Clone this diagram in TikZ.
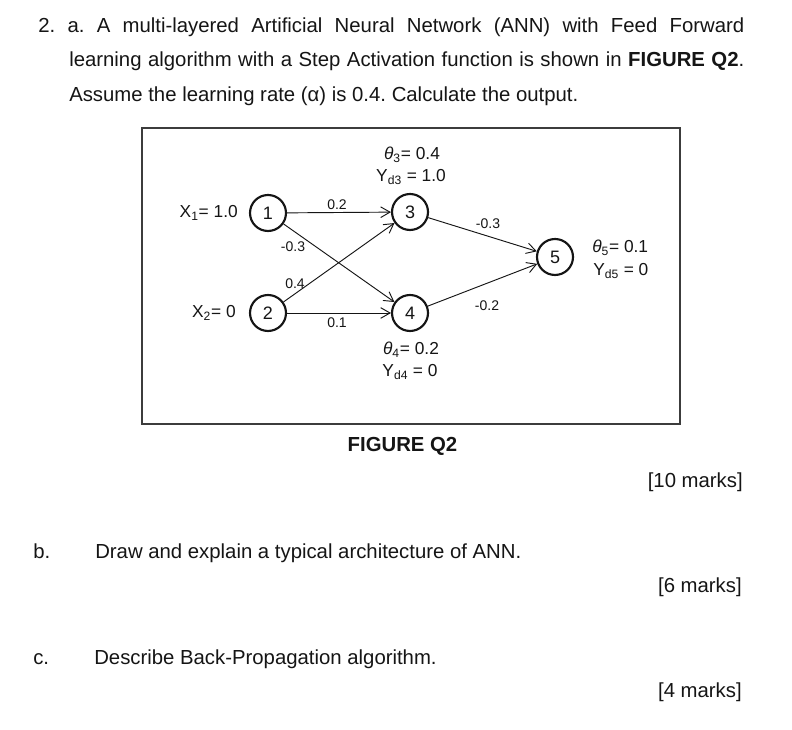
\documentclass[tikz,border=0pt]{standalone}
\usepackage{fontspec}
\setmainfont{Liberation Sans}
\usetikzlibrary{arrows.meta}
\definecolor{ink}{HTML}{151515}
\definecolor{frame}{HTML}{3C3C3C}
\frenchspacing
\begin{document}
\begin{tikzpicture}[x=0.75pt,y=-0.75pt,
  every node/.style={inner sep=0pt, text=ink},
  neuron/.style={circle, draw=ink, line width=1.6pt, minimum size=27pt, font=\fontsize{13.5}{15}\selectfont},
  link/.style={draw=ink, line width=0.7pt, -{Straight Barb[length=7pt,width=8pt,line width=0.7pt]}},
  wt/.style={font=\fontsize{10.5}{12}\selectfont},
  lbl/.style={font=\fontsize{13}{15}\selectfont},
  bodytext/.style={font=\fontsize{15.25}{18}\selectfont, anchor=base west},
  marks/.style={font=\fontsize{15.25}{18}\selectfont, anchor=base east}
]
\useasboundingbox (0,0) rectangle (792,730);
\fill[white] (0,0) rectangle (792,730);

% question text
\node[bodytext] (l1) at (38,33) {\makebox[529.5pt][s]{2. a. A multi-layered Artificial Neural Network (ANN) with Feed Forward}};
\node[bodytext] (l2) at (69,67) {\makebox[506.25pt][s]{learning algorithm with a Step Activation function is shown in \textbf{FIGURE Q2}.}};
\node[bodytext] (l3) at (69,102) {Assume the learning rate (α) is 0.4. Calculate the output.};

% frame
\draw[frame, line width=1.1pt] (142,128) rectangle (680,424);

% neurons
\node[neuron] (n1) at (268,213) {1};
\node[neuron] (n2) at (268,313) {2};
\node[neuron] (n3) at (410,212) {3};
\node[neuron] (n4) at (410,313) {4};
\node[neuron] (n5) at (555,257) {5};

% connectors
\draw[link] (n1) -- (n3);
\draw[link] (n1) -- (n4);
\draw[link] (n2) -- (n3);
\draw[link] (n2) -- (n4);
\draw[link] (n3) -- (n5);
\draw[link] (n4) -- (n5);

% weights
\node[wt] (w13) at (337,205) {0.2};
\node[wt] (w14) at (293,247) {-0.3};
\node[wt] (w23) at (295,284) {0.4};
\node[wt] (w24) at (337,323) {0.1};
\node[wt] (w35) at (488,224) {-0.3};
\node[wt] (w45) at (487,306) {-0.2};

% inputs
\node[lbl, anchor=east] (x1) at (238,213) {X\textsubscript{1}= 1.0};
\node[lbl, anchor=east] (x2) at (236,313) {X\textsubscript{2}= 0};

% thresholds
\node[lbl] (t3) at (412,155) {\textit{θ}\textsubscript{3}= 0.4};
\node[lbl] (y3) at (411,177) {Y\textsubscript{d3} = 1.0};
\node[lbl] (t4) at (411,350) {\textit{θ}\textsubscript{4}= 0.2};
\node[lbl] (y4) at (410,372) {Y\textsubscript{d4} = 0};
\node[lbl, anchor=west] (t5) at (592,248) {\textit{θ}\textsubscript{5}= 0.1};
\node[lbl, anchor=west] (y5) at (593,271) {Y\textsubscript{d5} = 0};

% caption and marks
\node[font=\fontsize{15.25}{18}\selectfont\bfseries, anchor=base] (cap) at (402.5,452) {FIGURE Q2};
\node[marks] (m10) at (743,487) {[10 marks]};
\node[bodytext] (bl) at (33,558) {b.};
\node[bodytext] (bt) at (95,558) {Draw and explain a typical architecture of ANN.};
\node[marks] (m6) at (742,592) {[6 marks]};
\node[bodytext] (cl) at (33,664) {c.};
\node[bodytext] (ct) at (94,664) {Describe Back-Propagation algorithm.};
\node[marks] (m4) at (742,697) {[4 marks]};
\end{tikzpicture}
\end{document}
